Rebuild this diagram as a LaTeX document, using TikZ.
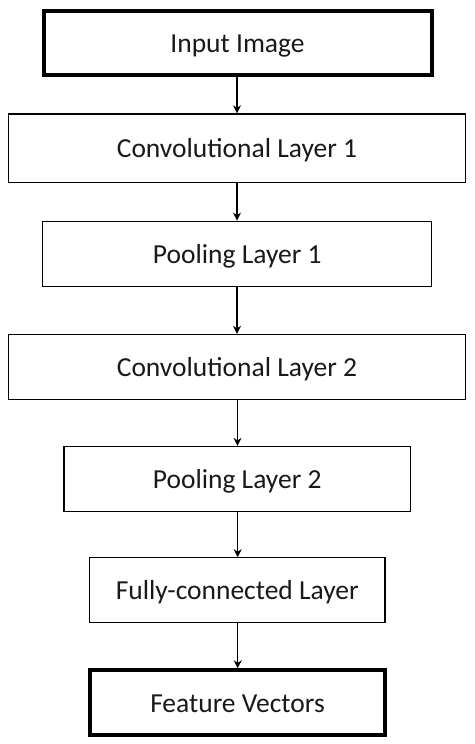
\documentclass[tikz,border=0pt]{standalone}
\usepackage{fontspec}
\setmainfont{Carlito}
\usetikzlibrary{arrows.meta}
\begin{document}
\begin{tikzpicture}[x=1pt,y=-1pt,
  box/.style={draw=black,rectangle,inner sep=0pt,line width=1.3pt,font=\fontsize{27.5}{31}\selectfont,text=black!90,text height=23pt,text depth=4pt},
  thickbox/.style={box,line width=4pt},
  arr/.style={draw=black,line width=1.1pt,-{Stealth[length=8pt,width=8pt]}}]
\useasboundingbox (0,0) rectangle (474,744);
\fill[white] (0,0) rectangle (474,744);
\node[thickbox,minimum width=388pt,minimum height=64pt] (in) at (237.5,43) {Input Image};
\node[box,minimum width=456.5pt,minimum height=68.5pt] (c1) at (237,148.2) {Convolutional Layer 1};
\node[box,minimum width=389pt,minimum height=65pt] (p1) at (237.3,253.7) {Pooling Layer 1};
\node[box,minimum width=456.5pt,minimum height=65pt] (c2) at (237,367) {Convolutional Layer 2};
\node[box,minimum width=346.5pt,minimum height=65pt] (p2) at (237.2,479) {Pooling Layer 2};
\node[box,minimum width=295.5pt,minimum height=65pt] (fc) at (237.3,590.3) {Fully-connected Layer};
\node[thickbox,minimum width=294.4pt,minimum height=64.4pt] (fv) at (237.5,702.5) {Feature Vectors};
\draw[arr] (in.south -| 237,0) -- (c1.north -| 237,0);
\draw[arr] (c1.south -| 237,0) -- (p1.north -| 237,0);
\draw[arr] (p1.south -| 237,0) -- (c2.north -| 237,0);
\draw[arr] (c2.south -| 237.5,0) -- (p2.north -| 237.5,0);
\draw[arr] (p2.south -| 237.7,0) -- (fc.north -| 237.7,0);
\draw[arr] (fc.south -| 237.7,0) -- (fv.north -| 237.7,0);
\end{tikzpicture}
\end{document}
